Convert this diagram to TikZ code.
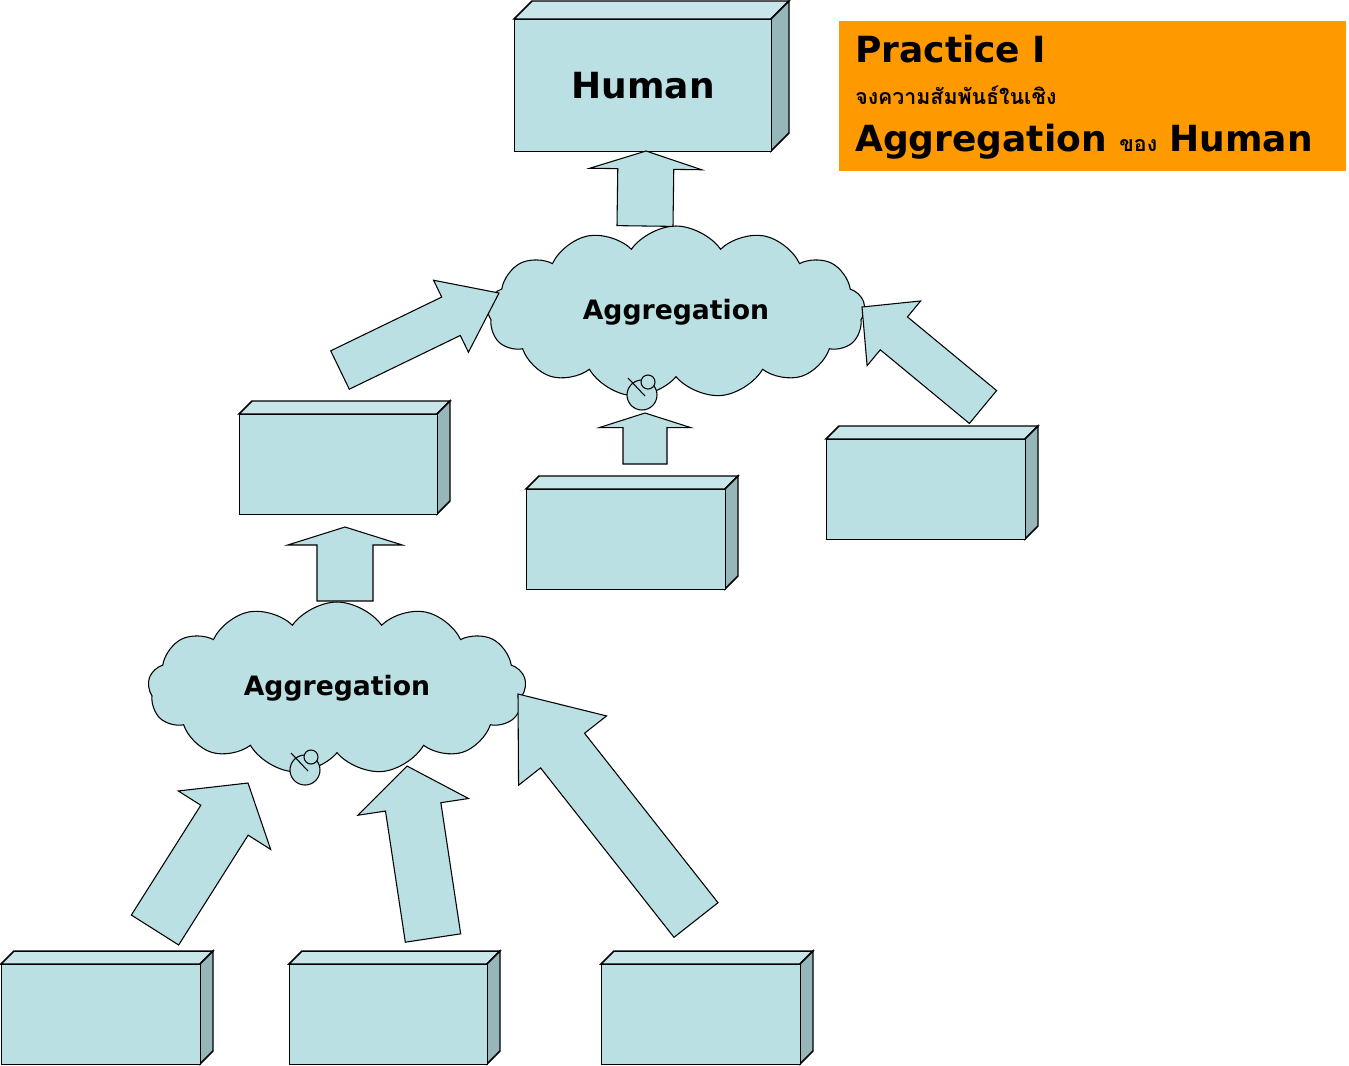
\documentclass[tikz,border=0pt]{standalone}
\usepackage{fontspec}
\setmainfont{DejaVu Sans}
\newfontfamily\thaifont[Script=Thai]{Loma}
\usetikzlibrary{calc,shapes.symbols}
\definecolor{cfront}{HTML}{BAE0E3}
\definecolor{cside}{HTML}{97B6B9}
\definecolor{ctop}{HTML}{C8E6E9}
\definecolor{corange}{HTML}{FF9900}
\tikzset{x=0.75pt,y=-0.75pt,
  ln/.style={draw=black,line width=1.1pt,line join=miter},
  thin/.style={draw=black,line width=0.8pt},
  cloudshape/.style={cloud,cloud puffs=13,cloud puff arc=110,aspect=2.1,draw=black,line width=0.8pt,fill=cfront,font=\bfseries\fontsize{20}{24}\selectfont},
}
% box: name, x1,y1,x2,y2, depth
\newcommand{\cubebox}[6]{%
  \fill[ctop,ln] (#2,#3) -- ++(#6,-#6) -- (#4+#6,#3-#6) -- (#4,#3) -- cycle;
  \fill[cside,ln] (#4,#3) -- (#4+#6,#3-#6) -- (#4+#6,#5-#6) -- (#4,#5) -- cycle;
  \node[ln,fill=cfront,minimum width={(#4-#2)*0.75pt},minimum height={(#5-#3)*0.75pt},inner sep=0pt,anchor=north west] (#1) at (#2,#3) {};
}
% block arrow: name, tail, tip, shaft half width, head half width, head length (pt)
\newcommand{\barrow}[6]{%
  \coordinate (#1t) at (#2); \coordinate (#1h) at (#3);
  \coordinate (#1n) at ($(#1h)!#6!(#1t)$);
  \draw[thin,fill=cfront] ($(#1t)!#4!90:(#1h)$) -- ($(#1n)!#4!-90:(#1t)$) -- ($(#1n)!#5!-90:(#1t)$) -- (#1h)
    -- ($(#1n)!#5!90:(#1t)$) -- ($(#1n)!#4!90:(#1t)$) -- ($(#1t)!#4!-90:(#1h)$) -- cycle;
}
\begin{document}
\begin{tikzpicture}
\useasboundingbox (0,0) rectangle (1349,1065);
% title box
\node[fill=corange,minimum width={507*0.75pt},minimum height={150*0.75pt},anchor=north west,inner sep=0pt] (title) at (839,21) {};
\node[anchor=base west,inner sep=0pt,font=\bfseries\fontsize{27}{30}\selectfont] (t1) at (855,62) {Practice I};
\node[anchor=base west,inner sep=0pt,font=\thaifont\bfseries\fontsize{16}{18}\selectfont] (t2) at (855,104) {จงความสัมพันธ์ในเชิง};
\node[anchor=base west,inner sep=0pt,font=\bfseries\fontsize{27}{30}\selectfont] (t3) at (855,151) {Aggregation {\thaifont\fontsize{16}{18}\selectfont ของ} Human};
% boxes
\cubebox{human}{514}{19}{771}{151}{18}
\node[font=\bfseries\fontsize{27}{30}\selectfont] (hl) at (human.center) {Human};
\cubebox{b1}{239}{414}{437}{514}{13}
\cubebox{b2}{526}{489}{725}{589}{13}
\cubebox{b3}{826}{439}{1025}{539}{13}
\cubebox{b4}{1}{964}{200}{1064}{13}
\cubebox{b5}{289}{964}{487}{1064}{13}
\cubebox{b6}{601}{964}{800}{1064}{13}
% clouds
\node[cloudshape,minimum width={378*0.75pt},minimum height={172*0.75pt}] (c1) at (676,312) {Aggregation};
\node[cloudshape,minimum width={378*0.75pt},minimum height={172*0.75pt}] (c2) at (337,688) {Aggregation};
\draw[thin,fill=cfront] (642,395) circle[radius=15];
\draw[thin,fill=cfront] (648,382) circle[radius=7];
\draw[thin] (628,378) -- (645,396);
\draw[thin,fill=cfront] (305,770) circle[radius=15];
\draw[thin,fill=cfront] (311,757) circle[radius=7];
\draw[thin] (291,753) -- (308,771);
% arrows
\barrow{a1}{645,226}{646,151}{21pt}{42pt}{13.5pt}
\barrow{a2}{645,464}{645,413}{16.5pt}{34.5pt}{11pt}
\barrow{a3}{340,370}{499,293}{16pt}{30pt}{40pt}
\barrow{a4}{983,407}{862,307}{16pt}{31.5pt}{31pt}
\barrow{a5}{345,601}{345,527}{21pt}{43pt}{13.5pt}
\barrow{a6}{155,930}{248,783}{21pt}{41pt}{33pt}
\barrow{a7}{433,938}{407,766}{21pt}{42pt}{31pt}
\barrow{a8}{696,920}{518,694}{21pt}{42pt}{54pt}
\end{tikzpicture}
\end{document}
